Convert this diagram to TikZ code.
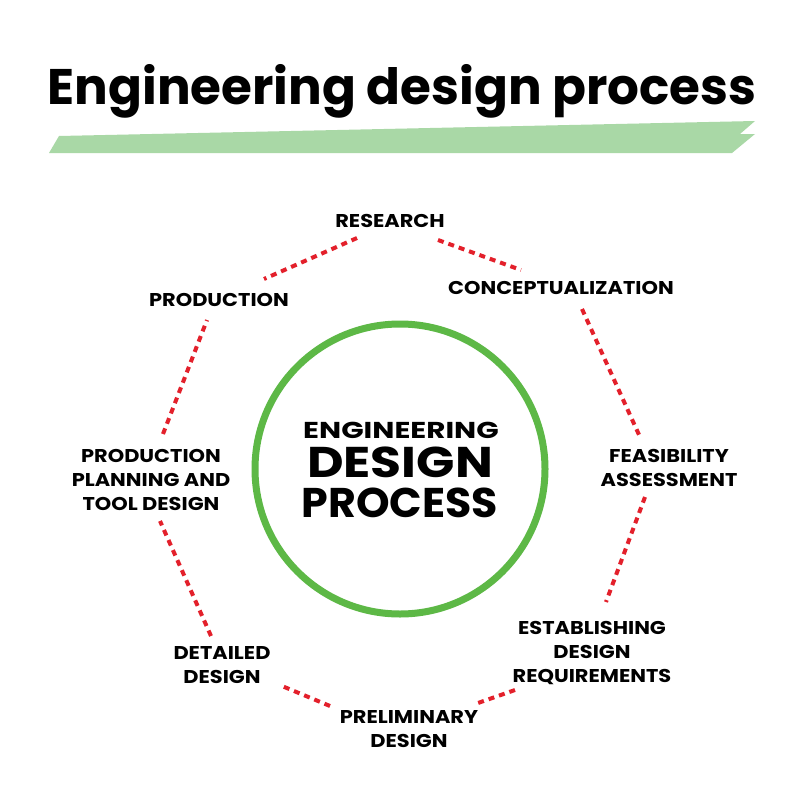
\documentclass[tikz,border=0pt]{standalone}
\usepackage{fontspec}
\setmainfont{Poppins}
\definecolor{barg}{HTML}{A9D8A6}
\definecolor{ringg}{HTML}{5DB846}
\definecolor{dashr}{HTML}{E3202B}
\newfontfamily\lblfont{Poppins}[FakeStretch=1.13]
\tikzset{
  lbl/.style={font=\lblfont\fontsize{18.5}{24}\selectfont\bfseries, align=center, inner sep=0pt, text=black},
  dline/.style={draw=dashr, line width=4pt, dash pattern=on 6pt off 5pt},
}
\begin{document}
\begin{tikzpicture}[x=1pt,y=-1pt]
\useasboundingbox (0,0) rectangle (800,800);
\fill[white] (0,0) rectangle (800,800);
% title
\node[font=\fontsize{50}{60}\selectfont\bfseries, inner sep=0pt] (title) at (402,91) {Engineering design process};
% green bar
\fill[barg] (49,153) -- (59,136) -- (755,121) -- (740,134) -- (755,134) -- (732,153) -- cycle;
% ring
\draw[ringg, line width=7pt] (400,469) circle (145);
\node[font=\fontsize{23}{30}\selectfont\bfseries, inner sep=0pt, anchor=base] (c1) at (401,438) {\scalebox{1.28}[1]{ENGINEERING}};
\node[font=\fontsize{43}{43}\selectfont\bfseries, inner sep=0pt, anchor=base] (c2) at (400,477) {\scalebox{1.17}[1]{DESIGN}};
\node[font=\fontsize{41.5}{43}\selectfont\bfseries, inner sep=0pt, anchor=base] (c3) at (400,517) {\scalebox{1.03}[1]{PROCESS}};
% labels
\node[lbl] (research) at (390,221) {RESEARCH};
\node[lbl] (concept) at (561,288) {CONCEPTUALIZATION};
\node[lbl] (feas) at (669,468) {FEASIBILITY\\ASSESSMENT};
\node[lbl] (estab) at (592,653) {ESTABLISHING\\DESIGN\\REQUIREMENTS};
\node[lbl] (prelim) at (409,729) {PRELIMINARY\\DESIGN};
\node[lbl] (detailed) at (222,665) {DETAILED\\DESIGN};
\node[lbl] (pptd) at (151,480) {PRODUCTION\\PLANNING AND\\TOOL DESIGN};
\node[lbl] (production) at (219,300) {PRODUCTION};
% connector ends
\coordinate (r1) at (357,238); \coordinate (p1) at (264,279);
\coordinate (r2) at (438,240); \coordinate (k1) at (521,270);
\coordinate (k2) at (582,309); \coordinate (f1) at (640,437);
\coordinate (f2) at (645,497); \coordinate (e1) at (606,602);
\coordinate (e2) at (515,690); \coordinate (q1) at (478,703);
\coordinate (q2) at (330,706); \coordinate (d1) at (282,686);
\coordinate (d2) at (211,636); \coordinate (t1) at (160,521);
\coordinate (t2) at (163,434); \coordinate (p2) at (207,320);
\draw[dline] (r1) -- (p1);
\draw[dline] (r2) -- (k1);
\draw[dline] (k2) -- (f1);
\draw[dline] (f2) -- (e1);
\draw[dline] (e2) -- (q1);
\draw[dline] (q2) -- (d1);
\draw[dline] (d2) -- (t1);
\draw[dline] (t2) -- (p2);
\end{tikzpicture}
\end{document}
